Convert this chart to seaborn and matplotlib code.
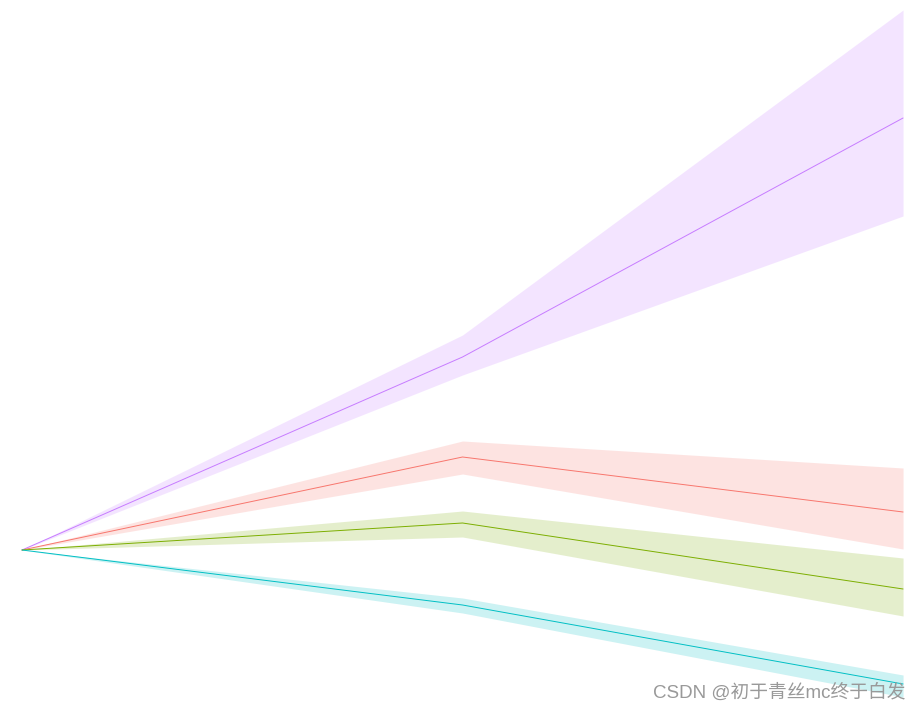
import matplotlib
matplotlib.use('Agg')
import matplotlib.pyplot as plt
import pandas as pd
import seaborn as sns

# x positions (3 steps) and for each group: lower bound, centre line, upper bound
steps = [0, 1, 2]
groups = ['d', 'a', 'b', 'c']
palette = ['#C77CFF', '#F8766D', '#7CAE00', '#00BFC4']

d_low = [0.0, 1.75, 3.34]
d_mid = [0.0, 1.93, 4.32]
d_high = [0.0, 2.15, 5.40]

a_low = [0.0, 0.76, 0.01]
a_mid = [0.0, 0.93, 0.38]
a_high = [0.0, 1.09, 0.82]

b_low = [0.0, 0.13, -0.66]
b_mid = [0.0, 0.27, -0.39]
b_high = [0.0, 0.39, -0.08]

c_low = [0.0, -0.63, -1.47]
c_mid = [0.0, -0.55, -1.34]
c_high = [0.0, -0.48, -1.25]

bands = {
    'd': (d_low, d_mid, d_high),
    'a': (a_low, a_mid, a_high),
    'b': (b_low, b_mid, b_high),
    'c': (c_low, c_mid, c_high),
}

rows = []
for g in groups:
    for vals in bands[g]:
        for x, v in zip(steps, vals):
            rows.append({'step': x, 'value': v, 'group': g})
df = pd.DataFrame(rows)

sns.set_style('white')
plt.rcParams['font.family'] = ['Liberation Sans', 'Noto Sans CJK SC', 'DejaVu Sans']

fig = plt.figure(figsize=(9.22, 7.12), dpi=100)
ax = fig.add_axes([0, 0, 1, 1])

# median of (low, mid, high) is the centre; 100% interval spans low..high
sns.lineplot(data=df, x='step', y='value', hue='group', hue_order=groups,
             palette=palette, estimator='median', errorbar=('pi', 100),
             linewidth=0.7, err_kws={'alpha': 0.2, 'linewidth': 0},
             legend=False, ax=ax)

ax.set_xlim(-0.05, 2.043)
ax.set_ylim(-1.62, 5.5)
ax.axis('off')

fig.text(905 / 922, 19 / 712, 'CSDN @初于青丝mc终于白发', ha='right', va='center',
         fontsize=13.5, color='#999999')

fig.savefig('out.png', dpi=100)
